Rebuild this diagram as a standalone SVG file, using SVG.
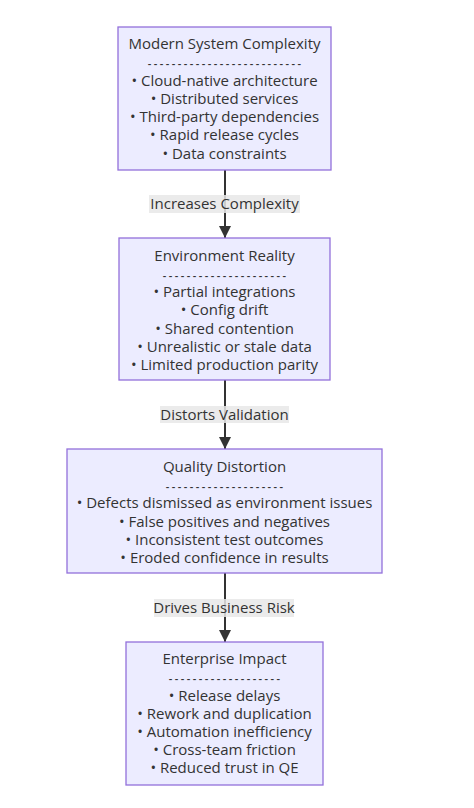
<svg xmlns="http://www.w3.org/2000/svg" width="474" height="808" viewBox="0 0 474 808">
<defs>
<style>
.node rect{fill:#ECECFF;stroke:#9370DB;stroke-width:1.3}
text{font-family:"Open Sans","DejaVu Sans",sans-serif;font-size:15px;fill:#333;text-anchor:middle}
.dash{font-size:11px;font-weight:600;letter-spacing:2.45px}
.edge{stroke:#333;stroke-width:2;fill:none}
.lblbg{fill:#e8e8e8;opacity:0.85}
</style>
<marker id="arrow" viewBox="0 0 12 12" refX="12" refY="6" markerWidth="12" markerHeight="12" markerUnits="userSpaceOnUse" orient="auto">
<path d="M0,0 L12,6 L0,12 z" fill="#333"/>
</marker>
</defs>
<rect width="474" height="808" fill="#fff"/>
<g id="connectors">
<line class="edge" x1="225" y1="170" x2="225" y2="238" marker-end="url(#arrow)"/>
<line class="edge" x1="225" y1="380" x2="225" y2="449" marker-end="url(#arrow)"/>
<line class="edge" x1="225" y1="573" x2="225" y2="642" marker-end="url(#arrow)"/>
<g id="label1"><rect class="lblbg" x="149" y="195" width="151" height="18"/><text x="224.5" y="209.2">Increases Complexity</text></g>
<g id="label2"><rect class="lblbg" x="160" y="406" width="129" height="17"/><text x="224.5" y="419.7">Distorts Validation</text></g>
<g id="label3"><rect class="lblbg" x="154" y="599" width="140" height="18"/><text x="224" y="613.2">Drives Business Risk</text></g>
</g>
<g id="node1" class="node">
<rect x="118" y="27" width="213" height="143"/>
<text x="224.5" y="49.2">Modern System Complexity<tspan class="dash" x="225.7" dy="18.6">--------------------------</tspan><tspan x="224.5" dy="17.7">• Cloud-native architecture</tspan><tspan x="224.5" dy="18.3">• Distributed services</tspan><tspan x="224.5" dy="18.3">• Third-party dependencies</tspan><tspan x="224.5" dy="18.3">• Rapid release cycles</tspan><tspan x="224.5" dy="18.3">• Data constraints</tspan></text>
</g>
<g id="node2" class="node">
<rect x="119" y="238" width="211" height="142"/>
<text x="224.5" y="261.2">Environment Reality<tspan class="dash" x="225.7" dy="18.3">---------------------</tspan><tspan x="224.5" dy="17.7">• Partial integrations</tspan><tspan x="224.5" dy="18.2">• Config drift</tspan><tspan x="224.5" dy="18.2">• Shared contention</tspan><tspan x="224.5" dy="18.2">• Unrealistic or stale data</tspan><tspan x="224.5" dy="18.2">• Limited production parity</tspan></text>
</g>
<g id="node3" class="node">
<rect x="67" y="449" width="315" height="124"/>
<text x="224.5" y="472.2">Quality Distortion<tspan class="dash" x="225.7" dy="18.5">--------------------</tspan><tspan x="224.5" dy="17.7">• Defects dismissed as environment issues</tspan><tspan x="224.5" dy="18.2">• False positives and negatives</tspan><tspan x="224.5" dy="18.2">• Inconsistent test outcomes</tspan><tspan x="224.5" dy="18.2">• Eroded confidence in results</tspan></text>
</g>
<g id="node4" class="node">
<rect x="126" y="642" width="197" height="143"/>
<text x="224.5" y="664.2">Enterprise Impact<tspan class="dash" x="225.7" dy="18.7">-------------------</tspan><tspan x="224.5" dy="17.7">• Release delays</tspan><tspan x="224.5" dy="18.2">• Rework and duplication</tspan><tspan x="224.5" dy="18.2">• Automation inefficiency</tspan><tspan x="224.5" dy="18.2">• Cross-team friction</tspan><tspan x="224.5" dy="18.2">• Reduced trust in QE</tspan></text>
</g>
</svg>
